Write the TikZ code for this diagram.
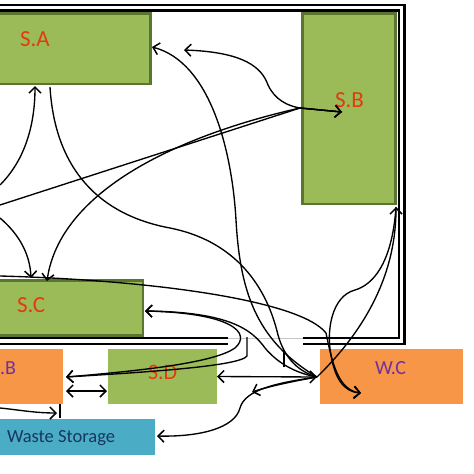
\documentclass[tikz,border=0pt]{standalone}
\usepackage{fontspec}
\setmainfont{Carlito}
\usetikzlibrary{arrows.meta}
\definecolor{gfill}{HTML}{9BBB59}
\definecolor{gline}{HTML}{5A7530}
\definecolor{ofill}{HTML}{F79646}
\definecolor{bfill}{HTML}{4BACC6}
\definecolor{redtxt}{HTML}{E03C10}
\definecolor{purtxt}{HTML}{7030A0}
\definecolor{navtxt}{HTML}{17375E}
\tikzset{
  room/.style={inner sep=0pt, outer sep=0pt, anchor=north west},
  gbox/.style={room, fill=gfill, draw=gline, line width=2.5pt},
  dbox/.style={room, fill=gfill},
  obox/.style={room, fill=ofill},
  wbox/.style={room, fill=bfill},
  lab/.style={inner sep=0pt, outer sep=0pt, anchor=base west},
  wall/.style={line width=2.4pt, draw=black},
  conn/.style={line width=1.35pt, draw=black},
  tip/.tip={Straight Barb[length=6pt,width=12pt,line width=1.5pt]}
}
\begin{document}
\begin{tikzpicture}[x=1pt,y=-1pt]
\useasboundingbox (0,0) rectangle (474,474);
\clip (0,0) rectangle (474,474);
\fill[white] (0,0) rectangle (474,474);
% boxes
\node[gbox, minimum width=155.5pt, minimum height=70.5pt] (SA) at (-5,13.5) {};
\node[gbox, minimum width=93pt, minimum height=190.5pt] (SB) at (302.5,13.5) {};
\node[gbox, minimum width=148pt, minimum height=55pt] (SC) at (-5,280.5) {};
\node[dbox, minimum width=109pt, minimum height=55pt] (SD) at (108,349) {};
\node[obox, minimum width=68pt, minimum height=55pt] (B) at (-5,349) {};
\node[obox, minimum width=143pt, minimum height=55pt] (WC) at (320,349) {};
\node[wbox, minimum width=160pt, minimum height=36pt] (WS) at (-5,419) {};
% walls
\draw[wall] (0,4.8) -- (404.5,4.8) -- (404.5,344) -- (303,344);
\draw[wall] (0,10.6) -- (399,10.6) -- (399,338.2) -- (303,338.2);
\draw[wall] (0,338.2) -- (228,338.2);
\draw[wall] (0,344) -- (228,344);
\draw[gray!45, line width=0.8pt] (228,338) -- (303,338);
% labels
\node[lab, text=redtxt, font=\fontsize{23}{23}\selectfont] (tSA) at (20,46) {S.A};
\node[lab, text=redtxt, font=\fontsize{23}{23}\selectfont] (tSB) at (335,107) {S.B};
\node[lab, text=redtxt, font=\fontsize{23}{23}\selectfont] (tSC) at (17,312) {S.C};
\node[lab, text=redtxt, font=\fontsize{22}{22}\selectfont] (tSD) at (148,379) {S.D};
\node[lab, text=purtxt, font=\fontsize{20}{20}\selectfont] (tWC) at (375,374) {W.C};
\node[lab, text=purtxt, font=\fontsize{20}{20}\selectfont] (tB) at (0,374) {.B};
\node[lab, text=navtxt, font=\fontsize{18.5}{18.5}\selectfont] (tWS) at (7,442) {Waste Storage};
% coordinates
\coordinate (H) at (317,377);
\coordinate (SAr) at (152,47);
\coordinate (SAr2) at (184,50);
\coordinate (SBin) at (342,112);
\coordinate (SBl) at (300,108);
\coordinate (SBb) at (396,207);
\coordinate (SAb) at (35,86);
\coordinate (SAb2) at (50,87);
\coordinate (SCt1) at (31,278);
\coordinate (SCt2) at (47,281);
\coordinate (SCr) at (145,311);
\coordinate (Br) at (66,377);
\coordinate (Br2) at (66,391);
\coordinate (SDl) at (107,391);
\coordinate (WCa) at (361,393);
\coordinate (WSr) at (157,436);
\coordinate (L1) at (0,185);
\coordinate (L2) at (0,205);
\coordinate (L3) at (0,218);
\coordinate (L4) at (0,276);
\coordinate (L5) at (0,408);
\coordinate (M1) at (252,392);
\coordinate (K1) at (247,337);
\coordinate (T1) at (284,350);
\coordinate (T2) at (284,367);
\coordinate (V1) at (60,404);
\coordinate (V2) at (60,418);
\coordinate (E5) at (57,413);
% connectors
\draw[conn,-tip] (L2) -- (SBl) -- (SBin);
\draw[conn,tip-tip] (SAr2) .. controls (245,52) and (262,68) .. (268,85) .. controls (275,100) and (288,106) .. (SBl) -- (SBin);
\draw[conn,-tip] (SBin) -- (SBl) .. controls (180,135) and (60,190) .. (SCt2);
\draw[conn,-tip] (L1) .. controls (25,160) and (35,125) .. (SAb);
\draw[conn,-tip] (L3) .. controls (20,235) and (30,255) .. (SCt1);
\draw[conn,tip-] (SAr) .. controls (210,62) and (232,150) .. (236,220) .. controls (240,290) and (255,340) .. (H);
\draw[conn] (SAb2) .. controls (55,170) and (100,215) .. (170,228) .. controls (230,240) and (265,280) .. (278,335) .. controls (285,360) and (300,372) .. (H);
\draw[conn,tip-tip] (SD.east) -- (H);
\draw[conn,tip-] (SCr) .. controls (230,312) and (252,330) .. (265,348) .. controls (280,366) and (300,374) .. (H);
\draw[conn,tip-tip] (Br) .. controls (150,370) and (215,362) .. (235,348) .. controls (252,333) and (232,313) .. (SCr);
\draw[conn,tip-] (Br) .. controls (150,372) and (240,366) .. (247,356) -- (K1);
\draw[conn,-tip] (L4) .. controls (150,280) and (300,300) .. (326,333) .. controls (332,362) and (338,390) .. (WCa);
\draw[conn,-tip] (H) .. controls (360,335) and (396,280) .. (SBb);
\draw[conn,-tip] (SBb) .. controls (392,265) and (372,285) .. (355,290) .. controls (332,296) and (326,330) .. (331,355) .. controls (335,380) and (345,392) .. (WCa);
\draw[conn,-tip] (H) .. controls (275,383) and (245,390) .. (240,408) .. controls (235,428) and (200,437) .. (WSr);
\draw[conn,-tip] (H) .. controls (295,381) and (270,386) .. (M1);
\draw[conn,tip-tip] (Br2) -- (SDl);
\draw[conn,-tip] (L5) .. controls (20,410) and (35,413) .. (E5);
\draw[conn] (V1) -- (V2);
\draw[conn] (T1) -- (T2);
\end{tikzpicture}
\end{document}
